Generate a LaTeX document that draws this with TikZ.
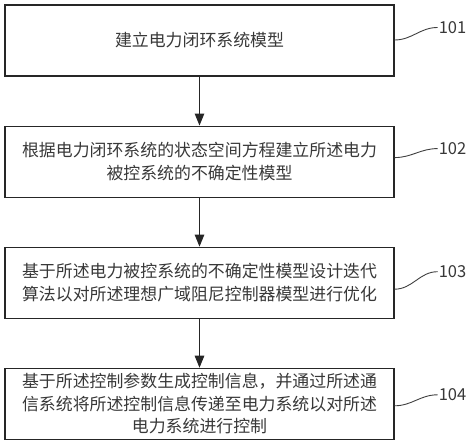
\documentclass[tikz,border=0pt]{standalone}
\usepackage{fontspec}
\setmainfont{Noto Sans CJK SC}
\usetikzlibrary{arrows.meta,positioning,calc}

\begin{document}
\begin{tikzpicture}[x=1pt, y=1pt,
				      node distance=49pt,
				      every node/.style={align=center, text=black!78},
				      stepBox/.style={
						      draw=black!85, line width=1.1pt,
						      minimum width=389pt, minimum height=71pt,
						      inner sep=0pt,
						      font=\fontsize{16.9}{22.5}\selectfont
					      },
				      stepTag/.style={
						      anchor=west, inner sep=1pt,
						      font=\fontsize{16.5}{19}\selectfont
					      },
				      flowArrow/.style={draw=black!85, line width=1.1pt, -{Triangle[length=12pt, width=9.5pt]}},
				      tagLine/.style={draw=black!75, line width=0.9pt}
			      ]
			      \useasboundingbox (0,0) rectangle (474,444);

			      % Steps
			      \node[stepBox] (S1) at (199.5,403.5) {建立电力闭环系统模型};
			      \node[stepBox, below=of S1] (S2) {根据电力闭环系统的状态空间方程建立所述电力\\被控系统的不确定性模型};
			      \node[stepBox, below=of S2] (S3) {基于所述电力被控系统的不确定性模型设计迭代\\算法以对所述理想广域阻尼控制器模型进行优化};
			      \node[stepBox, below=of S3] (S4) {基于所述控制参数生成控制信息，并通过所述通\\信系统将所述控制信息传递至电力系统以对所述\\电力系统进行控制};

			      \draw[flowArrow] (S1) -- (S2);
			      \draw[flowArrow] (S2) -- (S3);
			      \draw[flowArrow] (S3) -- (S4);

			      % Step numbers
			      \node[stepTag] (T1) at ($(S1.east)+(43,13)$) {101};
			      \node[stepTag] (T2) at ($(S2.east)+(43,13)$) {102};
			      \node[stepTag] (T3) at ($(S3.east)+(43,11)$) {103};
			      \node[stepTag] (T4) at ($(S4.east)+(43,9)$) {104};

			      \draw[tagLine] ($(S1.east)+(0,0.5)$) to[out=0, in=180] (T1.west);
			      \draw[tagLine] ($(S2.east)+(0,4)$) to[out=0, in=180] (T2.west);
			      \draw[tagLine] ($(S3.east)+(0,-6.5)$) to[out=0, in=180] (T3.west);
			      \draw[tagLine] ($(S4.east)+(0,-2)$) to[out=0, in=180] (T4.west);
		      \end{tikzpicture}
\end{document}
